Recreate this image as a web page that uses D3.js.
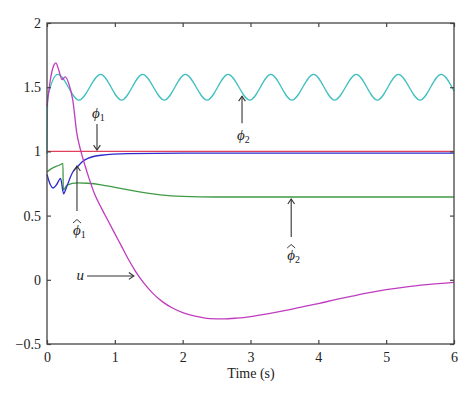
<!DOCTYPE html>
<html>
<head>
<meta charset="utf-8">
<script src="https://cdn.jsdelivr.net/npm/d3@7.9.0/dist/d3.min.js"></script>
<style>
  body { margin: 0; background: #fff; }
  text { font-family: "Liberation Serif", "DejaVu Serif", serif; fill: #222; }
</style>
</head>
<body>
<script>
// ---- data ----
const xTicks = [0, 1, 2, 3, 4, 5, 6];
const yTicks = [-0.5, 0, 0.5, 1, 1.5, 2];
const yTickLabels = ["\u22120.5", "0", "0.5", "1", "1.5", "2"];

// phi_1 (reference, red)
const tPhi1 = [0, 6];
const phi1 = [1, 1];

// phi_2 (reference, cyan) - peaks / troughs
const tPhi2 = [0, 0.01, 0.16, 0.47, 0.79, 1.10, 1.41, 1.73, 2.04, 2.36, 2.67, 2.99, 3.30, 3.61, 3.93, 4.24, 4.56, 4.87, 5.18, 5.50, 5.81, 6.0];
const phi2 = [0.98, 1.42, 1.6, 1.4, 1.6, 1.4, 1.6, 1.4, 1.6, 1.4, 1.6, 1.4, 1.6, 1.4, 1.6, 1.4, 1.6, 1.4, 1.6, 1.4, 1.6, 1.47];

// phi_1 estimate (blue)
const tPhi1Hat = [0, 0.05, 0.09, 0.14, 0.2, 0.245, 0.28, 0.33, 0.38, 0.45, 0.52, 0.6, 0.8, 1.2, 2.0, 6.0];
const phi1Hat = [0.82, 0.74, 0.715, 0.74, 0.79, 0.67, 0.71, 0.78, 0.84, 0.88, 0.92, 0.945, 0.97, 0.982, 0.986, 0.986];

// phi_2 estimate (green)
const tPhi2Hat = [0, 0.05, 0.1, 0.17, 0.235, 0.24, 0.3, 0.45, 0.6, 0.8, 1.0, 1.3, 1.67, 2.0, 2.5, 6.0];
const phi2Hat = [0.84, 0.86, 0.875, 0.89, 0.905, 0.70, 0.74, 0.755, 0.752, 0.74, 0.72, 0.69, 0.662, 0.65, 0.645, 0.645];

// control input u (magenta)
const tU = [0, 0.05, 0.1, 0.13, 0.17, 0.22, 0.27, 0.32, 0.38, 0.44, 0.5, 0.56, 0.62, 0.7, 0.8, 0.9, 1.0, 1.1, 1.2, 1.3, 1.42, 1.55, 1.7, 1.85, 2.0, 2.2, 2.4, 2.6, 2.8, 3.0, 3.25, 3.5, 3.75, 4.0, 4.25, 4.5, 4.75, 5.0, 5.3, 5.6, 6.0];
const u = [1.35, 1.56, 1.67, 1.69, 1.64, 1.56, 1.58, 1.53, 1.40, 1.14, 1.0, 0.89, 0.79, 0.67, 0.56, 0.46, 0.36, 0.26, 0.16, 0.07, -0.02, -0.1, -0.17, -0.22, -0.255, -0.285, -0.302, -0.305, -0.298, -0.286, -0.265, -0.24, -0.212, -0.185, -0.155, -0.127, -0.1, -0.077, -0.055, -0.038, -0.02];

const series = [
  { t: tPhi2, v: phi2, color: "#3fbfbf" },
  { t: tPhi2Hat, v: phi2Hat, color: "#3f9a45" },
  { t: tPhi1Hat, v: phi1Hat, color: "#2b2bcc" },
  { t: tPhi1, v: phi1, color: "#e0405a" },
  { t: tU, v: u, color: "#c03cbf" }
];

// ---- layout ----
const W = 474, H = 399;
const x = d3.scaleLinear().domain([0, 6]).range([47, 454]);
const y = d3.scaleLinear().domain([-0.5, 2]).range([344, 23]);

const svg = d3.select("body").append("svg").attr("width", W).attr("height", H);

// curves
const line = d3.line().x(d => x(d[0])).y(d => y(d[1])).curve(d3.curveMonotoneX);
series.forEach(s => {
  svg.append("path")
    .attr("d", line(s.t.map((t, i) => [t, s.v[i]])))
    .attr("fill", "none")
    .attr("stroke", s.color)
    .attr("stroke-width", 1.3);
});

// axes with inward ticks
const axisColor = "#444";
function styleAxis(g) {
  g.select(".domain").remove();
  g.selectAll(".tick line").attr("stroke", axisColor).attr("stroke-width", 1.2);
  g.selectAll(".tick text").attr("font-size", 14).attr("fill", "#222")
    .attr("font-family", "Liberation Serif, DejaVu Serif, serif");
}
svg.append("g").attr("transform", "translate(0,344)")
  .call(d3.axisBottom(x).tickValues(xTicks).tickSizeInner(-4).tickSizeOuter(0).tickPadding(8).tickFormat(d3.format("d")))
  .call(styleAxis);
svg.append("g").attr("transform", "translate(0,23)")
  .call(d3.axisTop(x).tickValues(xTicks).tickSizeInner(-4).tickSizeOuter(0).tickFormat(""))
  .call(styleAxis);
svg.append("g").attr("transform", "translate(47,0)")
  .call(d3.axisLeft(y).tickValues(yTicks).tickSizeInner(-4).tickSizeOuter(0).tickPadding(6).tickFormat((d, i) => yTickLabels[i]))
  .call(styleAxis);
svg.append("g").attr("transform", "translate(454,0)")
  .call(d3.axisRight(y).tickValues(yTicks).tickSizeInner(-4).tickSizeOuter(0).tickFormat(""))
  .call(styleAxis);

svg.append("rect")
  .attr("x", 47).attr("y", 23).attr("width", 407).attr("height", 321)
  .attr("fill", "none").attr("stroke", axisColor).attr("stroke-width", 1.3);

svg.append("text").attr("x", 251).attr("y", 378).attr("text-anchor", "middle")
  .attr("font-size", 14).text("Time (s)");

// ---- annotations ----
const ink = "#333";
function arrow(t1, v1, t2, v2) {
  const x1 = x(t1), y1 = y(v1), x2 = x(t2), y2 = y(v2);
  svg.append("line").attr("x1", x1).attr("y1", y1).attr("x2", x2).attr("y2", y2)
    .attr("stroke", ink).attr("stroke-width", 1.1);
  const a = Math.atan2(y2 - y1, x2 - x1), L = 6, s = 0.6;
  const p = [
    [x2 - L * Math.cos(a - s), y2 - L * Math.sin(a - s)],
    [x2, y2],
    [x2 - L * Math.cos(a + s), y2 - L * Math.sin(a + s)]
  ];
  svg.append("path").attr("d", d3.line()(p)).attr("fill", "none")
    .attr("stroke", ink).attr("stroke-width", 1.1);
}
function phiLabel(px, py, sub, hat) {
  const t = svg.append("text").attr("x", px).attr("y", py).attr("font-size", 15);
  t.append("tspan").attr("font-style", "italic").text("\u03D5");
  t.append("tspan").attr("font-size", 10).attr("dy", 3).text(sub);
  if (hat) {
    svg.append("path")
      .attr("d", `M${px},${py - 12} L${px + 4},${py - 15.5} L${px + 8},${py - 12}`)
      .attr("fill", "none").attr("stroke", "#222").attr("stroke-width", 0.9);
  }
}

// phi_1
arrow(0.737, 1.213, 0.737, 1.01);
phiLabel(x(0.737) - 5, 118, "1", false);
// phi_2
arrow(2.875, 1.22, 2.875, 1.43);
phiLabel(x(2.875) - 5, 140, "2", false);
// phi_1 hat
arrow(0.442, 0.536, 0.442, 0.886);
phiLabel(x(0.442) - 4, 235, "1", true);
// phi_2 hat
arrow(3.6, 0.333, 3.6, 0.629);
phiLabel(x(3.6) - 4, 260, "2", true);
// u
arrow(0.59, 0.03, 1.28, 0.03);
svg.append("text").attr("x", x(0.59) - 3).attr("y", 280).attr("text-anchor", "end")
  .attr("font-size", 15).attr("font-style", "italic").text("u");
</script>
</body>
</html>
